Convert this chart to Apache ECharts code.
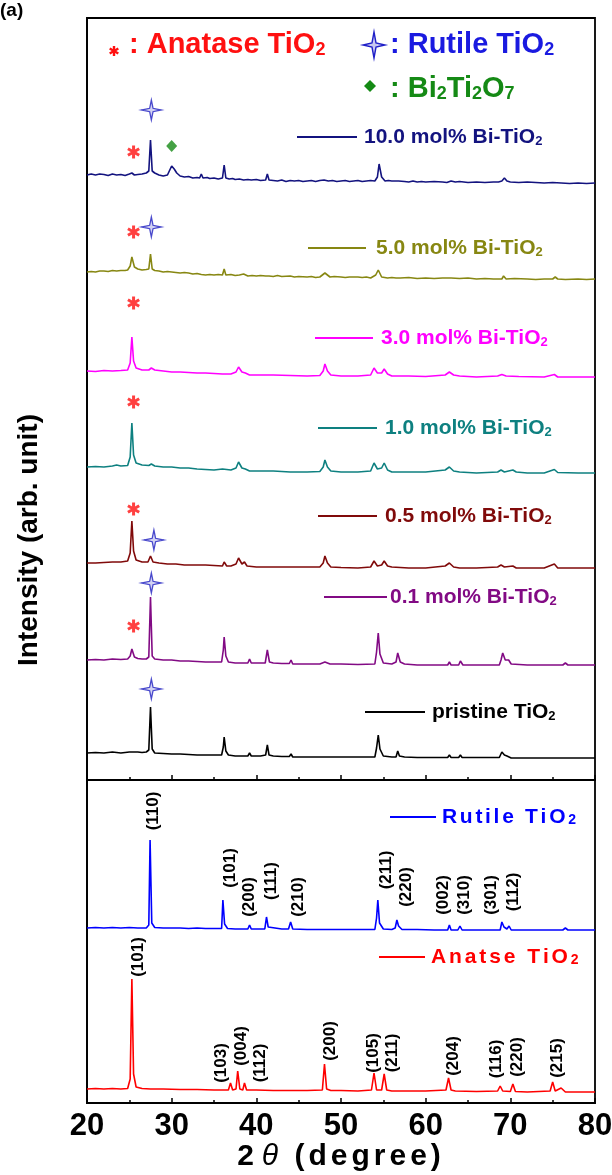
<!DOCTYPE html>
<html>
<head>
<meta charset="utf-8">
<script src="https://cdn.jsdelivr.net/npm/echarts@6/dist/echarts.min.js"></script>
<style>
html, body { margin: 0; padding: 0; background: #fff; }
#chart { width: 612px; height: 1175px; }
</style>
</head>
<body>
<div id="chart"></div>
<script>
// x axis (2θ) range and tick labels
const xTicks = [20, 30, 40, 50, 60, 70, 80]

// Bi-TiO2 patterns, [2θ, intensity above own baseline] (arb. unit)
const pat100 = [[20,0],[20.5,1],[21,0],[21.5,1],[22,0.5],[22.5,-0.5],[23,1],[23.5,0],[24,0.5],[24.5,-0.5],[25,1],[25.3,2],[25.6,0],[26,0.5],[26.5,1],[27,2],[27.3,4],[27.5,35],[27.7,4],[28,2],[28.5,0],[29,-1],[29.5,0],[30,9],[30.3,6],[30.6,2],[31,-1],[31.5,-2],[32,-1.5],[32.5,-3],[33,-2.5],[33.3,-3],[33.5,1],[33.7,-3],[34.2,-2.5],[34.5,-3.5],[35,-3],[35.5,-4],[36,-3],[36.2,10],[36.4,-3],[36.8,-4],[37.2,-3.5],[37.5,-4.5],[38,-4],[38.5,-5],[39,-4.5],[39.2,-3],[39.4,-5],[40,-4.5],[40.5,-5.5],[41.1,-5],[41.3,1],[41.5,-5],[42,-5.5],[42.5,-6],[43,-5],[43.5,-6.5],[44,-5.5],[44.5,-6],[45,-5.5],[45.5,-6.5],[46,-6],[46.5,-5.5],[47,-6.5],[47.5,-5.5],[48,-5],[48.5,-6],[49,-5.5],[49.5,-6.5],[50,-6],[50.5,-5.5],[51,-6.5],[51.5,-6],[52,-5.5],[52.5,-6.5],[53,-6],[53.5,-5.5],[54,-6],[54.3,-2],[54.5,11],[54.8,-2],[55.2,-6],[55.6,-5.5],[56,-6],[56.4,-6],[56.6,-4],[56.8,-6],[57.5,-6.5],[58,-7],[58.5,-6],[59,-7],[59.5,-6.5],[60,-7],[61,-6.5],[62,-7],[62.5,-7.5],[63,-6],[63.5,-7],[64,-6.5],[65,-7.5],[66,-7],[67,-7.5],[68,-7],[68.6,-7],[69,-6],[69.3,-3],[69.6,-6],[70,-7],[71,-7.5],[72,-7],[73,-7.5],[74,-8],[75,-7.5],[76,-8],[77,-8.5],[78,-8],[79,-8.5],[80,-8]]
const pat50 = [[20,0],[20.5,0.5],[21,0],[21.5,1],[22,1],[22.5,0.5],[23,1.5],[23.5,1],[24,1.5],[24.5,1.5],[24.8,2],[25.1,6],[25.3,15],[25.6,5],[26,3],[26.5,2],[27,2.5],[27.3,3],[27.5,18],[27.7,3],[28,1.5],[28.5,1],[29,0],[29.5,0.5],[30,0],[30.5,-0.5],[31,-1],[31.5,-0.5],[32,-1],[32.5,-2],[33,-1.5],[33.5,-2.5],[34,-3],[34.5,-2.5],[35,-3],[35.5,-2.5],[36,-3],[36.2,3],[36.4,-3],[37,-2.5],[37.5,-3.5],[38,-3],[38.5,-2],[39,-4],[39.5,-3.5],[40,-4],[40.5,-3.5],[41.1,-4],[41.3,-2],[41.5,-4],[42,-4.5],[42.5,-3.5],[43,-4.5],[44,-4],[44.5,-5],[45,-4.5],[46,-5],[46.5,-4.5],[47,-5.5],[47.5,-5],[48.1,-1],[48.7,-5],[49.2,-4.5],[50,-5],[50.5,-5.5],[51,-5],[52,-5],[52.5,-5.5],[53,-5],[53.5,-6],[54.1,-3],[54.4,2],[54.8,-5],[55.5,-6],[56,-5.5],[56.5,-6],[57,-6],[58,-5.5],[59,-6.5],[60,-6],[61,-6.5],[62,-6],[63,-6],[64,-6.5],[65,-6],[66,-7],[67,-6.5],[68,-7],[69,-7],[69.2,-4],[69.5,-7],[70.5,-6.5],[72,-7],[73,-7.5],[74,-7],[75,-7],[75.3,-5],[75.6,-7],[76.5,-7.5],[78,-7],[79,-7.5],[80,-7]]
const pat30 = [[20,0],[21,-0.5],[22,0.5],[23,0],[24,0.5],[24.8,1],[25.1,8],[25.3,34],[25.5,10],[25.8,3],[26.5,1],[27.3,1],[27.6,3],[28,1],[29,0],[30,-1],[31,-1],[32,-1.5],[33,-2],[34,-2],[35,-2.5],[36,-3],[37,-3],[37.6,-1],[37.9,4],[38.3,-1],[38.7,-2],[39.2,-4],[40,-4],[42,-4],[44,-4.5],[46,-5],[47.5,-4.5],[47.9,0],[48.1,7],[48.4,0],[48.8,-4],[50,-5],[52,-5],[53.5,-4],[53.9,3],[54.3,-2],[54.8,-2],[55.1,2],[55.5,-3],[56,-5],[58,-5],[60,-5.5],[62.3,-4],[62.8,-1],[63.3,-4],[64,-5],[66,-6],[68.5,-5],[69,-3.5],[69.5,-5],[71,-5.5],[74,-6],[75.2,-3.5],[75.6,-6],[78,-6],[80,-6]]
const pat10 = [[20,0],[21,0.5],[22,0],[23,1],[23.5,2],[24,1],[24.8,1.5],[25.1,10],[25.3,44],[25.5,12],[25.8,4],[26.5,2],[27.3,1.5],[27.6,3],[28,1],[29,0],[30,0],[31,-1],[32,-1],[33,-2],[34,-2.5],[35,-3],[36,-2],[37,-3],[37.6,-1],[37.9,5],[38.3,-1],[38.7,-2],[39.2,-4],[40,-4],[42,-4],[44,-5],[46,-5],[47.5,-4.5],[47.9,0],[48.1,7],[48.4,0],[48.8,-4],[50,-5],[52,-5],[53.5,-4],[53.9,4],[54.3,-2],[54.8,-1],[55.1,4],[55.5,-3],[56,-5],[58,-5],[60,-5],[62.3,-3],[62.8,0],[63.3,-4],[64,-5],[66,-6],[68.5,-5],[68.9,-3],[69.3,-5],[70.3,-3],[70.7,-5],[72,-6],[74,-6],[75.2,-2.5],[75.6,-5.5],[78,-6],[80,-6]]
const pat05 = [[20,0],[21,0],[22,0.5],[23,1],[24,1],[24.8,2],[25.1,10],[25.3,42],[25.5,12],[25.8,3],[26.5,1],[27.2,1],[27.5,7],[27.8,1],[28.5,0],[29.5,-1],[30.5,-1],[31.5,-2],[33,-2],[34,-2],[35,-2.5],[36,-3],[36.2,1],[36.5,-3],[37,-3],[37.6,-1],[37.9,5],[38.3,-1],[38.6,1],[38.9,-3],[40,-4],[42,-4],[44,-4],[46,-4],[47.5,-4],[47.9,0],[48.1,7],[48.4,0],[48.8,-4],[50,-4.5],[52,-5],[53.5,-4],[53.9,2],[54.3,-3],[54.8,-2],[55.1,2],[55.5,-3],[56,-4],[58,-5],[60,-5],[62.3,-3],[62.8,0],[63.3,-4],[64,-5],[66,-5],[68.5,-4],[68.9,-2],[69.3,-4],[70.3,-3],[70.7,-5],[72,-5],[74,-5],[75.2,-1],[75.6,-5],[78,-5],[80,-5]]
const pat01 = [[20,0],[21,0.5],[22,0],[23,1],[24,0.5],[24.8,1],[25.1,4],[25.3,11],[25.6,3],[26,1.5],[26.5,1],[27,1],[27.3,3],[27.5,63],[27.7,4],[28,1],[29,0],[30,0],[31,-1],[32,-1],[33,-1.5],[34,-2],[35,-2],[35.9,-2],[36.1,10],[36.2,23],[36.4,4],[36.7,-2],[37.5,-3],[38.5,-3],[39,-3],[39.2,1],[39.4,-3],[40.5,-3],[41.05,-3],[41.3,10],[41.55,-2],[42,-3],[43,-3.5],[43.9,-3.5],[44.1,0],[44.3,-4],[46,-4],[47.5,-4],[48.1,-2],[48.7,-4],[50,-4],[52,-4.5],[54,-4],[54.2,8],[54.4,27],[54.6,6],[55,-3],[56,-4],[56.5,-2],[56.7,7],[57,-2],[57.5,-4],[59,-5],[61,-5],[62.6,-5],[62.8,-2],[63,-5],[63.9,-5],[64.1,-1],[64.4,-5],[66,-5],[68,-5],[68.7,-5],[68.9,0],[69.1,7],[69.4,0],[69.6,-2],[69.8,0],[70.1,-4],[72,-5],[74,-5],[76.2,-5],[76.5,-3],[76.8,-5],[80,-5]]
const patPristine = [[20,0],[21,0.5],[22,0],[23,1],[24,0],[25,1],[25.5,1],[26,1],[26.5,0.5],[27,1],[27.3,3],[27.5,46],[27.7,4],[28,0],[29,-0.5],[30,-1],[31,-1],[32,-1.5],[33,-2],[34,-2],[35,-2],[35.9,-2],[36.1,6],[36.2,16],[36.4,2],[36.7,-2],[37.5,-3],[38.5,-3],[39,-3],[39.2,0],[39.4,-3],[40.5,-3],[41.1,-2],[41.3,8],[41.5,-2],[42,-3],[43,-3.5],[43.9,-3.5],[44.1,-1],[44.3,-4],[46,-4],[48,-4],[50,-4],[52,-4],[54,-4],[54.2,5],[54.4,18],[54.6,4],[55,-3],[56,-4],[56.5,-4],[56.7,2],[56.9,-3],[57.5,-4],[59,-4.5],[61,-4.5],[62.6,-4.5],[62.8,-2],[63,-4.5],[63.9,-4.5],[64.1,-2],[64.3,-4.5],[66,-4.5],[68,-4.5],[68.7,-4.5],[69,1],[69.3,-2],[69.6,-3],[69.8,-2],[70.1,-5],[72,-5],[75,-5],[78,-5],[80,-5]]

const samplePatterns = [pat100, pat50, pat30, pat10, pat05, pat01, patPristine]
const sampleOffsets = [605, 508, 409, 313, 217, 120, 27]
const sampleNames = ['10.0 mol% Bi-TiO', '5.0 mol% Bi-TiO', '3.0 mol% Bi-TiO', '1.0 mol% Bi-TiO', '0.5 mol% Bi-TiO', '0.1 mol% Bi-TiO', 'pristine TiO']
const sampleColors = ['#13137f', '#878712', '#ff00ff', '#0e8080', '#800a0a', '#820a84', '#000000']

// reference patterns (bottom panel)
const rutileRef = [[20,0],[21,0.5],[22,0],[23,0.5],[24,0],[25,0.5],[26,0],[27,0],[27.3,3],[27.45,88],[27.65,5],[28,0.5],[29,0],[30,0],[31,0],[32,-0.5],[33,0],[34,-0.5],[35,-0.5],[35.9,-0.5],[36.05,28],[36.25,4],[36.6,-0.5],[37.5,-1],[39,-1],[39.2,3],[39.4,-1],[41,-1],[41.2,11],[41.4,1],[41.6,-1],[43,-1],[43.8,-1],[44.05,6],[44.3,-1],[46,-1.5],[48,-1.5],[50,-1.5],[52,-1.5],[54,-1.5],[54.2,10],[54.35,28],[54.55,5],[55,-1],[56,-1.5],[56.4,0],[56.6,8],[56.8,2],[57.2,-1.5],[59,-1.5],[61,-2],[62.6,-2],[62.8,3],[63,-2],[63.8,-2],[64.05,2],[64.3,-2],[66,-2],[68,-2],[68.8,-2],[69,6],[69.25,1],[69.6,-1],[69.85,2],[70.1,-2],[72,-2],[75,-2],[76.2,-2],[76.5,0],[76.8,-2],[80,-2]]
const anataseRef = [[20,0],[21,0.5],[22,0],[23,0.5],[24,0],[24.8,0.5],[25.1,10],[25.3,110],[25.5,15],[25.8,2],[26.5,0.5],[27.5,0],[29,0],[31,-0.5],[33,-0.5],[35,-1],[36.7,-1],[36.95,6],[37.2,-1],[37.6,0],[37.8,18],[38.05,0],[38.4,-1],[38.6,6],[38.85,-1],[40,-1],[42,-1.5],[44,-1.5],[46,-1.5],[47.8,-1],[48.05,25],[48.3,0],[48.8,-1.5],[50,-1.5],[52,-2],[53.6,-1],[53.9,16],[54.2,-1],[54.8,-1],[55.1,15],[55.4,-1],[56,-2],[58,-2],[60,-2],[62.4,-1],[62.7,11],[63,-1],[63.5,-2],[66,-2.5],[68.5,-2],[68.8,3],[69.1,-2],[70,-2.5],[70.3,5],[70.6,-2.5],[72,-3],[74.7,-2],[75,7],[75.3,-2],[76,1],[76.5,-3],[78,-3],[80,-3]]
const refOffsets = [175, 14]

// hkl labels: name, 2θ, height
const rutileHkl = ['(110)', '(101)', '(200)', '(111)', '(210)', '(211)', '(220)', '(002)', '(310)', '(301)', '(112)']
const rutileHklX = [27.8, 36.9, 39.2, 41.8, 44.9, 55.3, 57.7, 62.1, 64.6, 67.8, 70.3]
const rutileHklY = [292, 235, 206, 222, 206, 233, 216, 208, 208, 208, 211]
const anataseHkl = ['(101)', '(103)', '(004)', '(112)', '(200)', '(105)', '(211)', '(204)', '(116)', '(220)', '(215)']
const anataseHklX = [26.1, 35.9, 38.2, 40.5, 48.7, 53.8, 56.1, 63.3, 68.4, 70.8, 75.6]
const anataseHklY = [146, 40, 57, 40, 62, 50, 50, 47, 44, 46, 45]

// phase markers above the stacked patterns
const anataseMarks = [[25.5, 628], [25.5, 548], [25.5, 477], [25.5, 378], [25.5, 271], [25.5, 154]]
const rutileMarks = [[27.6, 670], [27.6, 553], [27.9, 240], [27.6, 197], [27.6, 91]]
const biMarks = [[30.0, 634]]

const FONT = '"Liberation Sans", Arial, sans-serif'
const starPath = 'path://M0,-10L1.7,-1.7L10,0L1.7,1.7L0,10L-1.7,1.7L-10,0L-1.7,-1.7Z'
const asteriskPath = 'path://M0,-6L0,6M-5.2,-3L5.2,3M-5.2,3L5.2,-3'

// letter-spaced rich text helper
function spaced(str, style) {
  return str.split('').map(c => '{' + style + '|' + c + '}').join('')
}

function richSub(size, subSize, gap) {
  return {
    m: { fontSize: size, fontWeight: 'bold', fontFamily: FONT, padding: [0, gap || 0, 0, 0] },
    s: { fontSize: subSize, fontWeight: 'bold', fontFamily: FONT, verticalAlign: 'bottom', lineHeight: subSize, padding: [0, gap || 0, 0, 0] }
  }
}

const series = []

samplePatterns.forEach((pts, i) => {
  series.push({
    type: 'line', xAxisIndex: 0, yAxisIndex: 0,
    data: pts.map(p => [p[0], p[1] + sampleOffsets[i]]),
    showSymbol: false, silent: true,
    lineStyle: { color: sampleColors[i], width: 1.6 }
  })
})

;[rutileRef, anataseRef].forEach((pts, i) => {
  series.push({
    type: 'line', xAxisIndex: 1, yAxisIndex: 1,
    data: pts.map(p => [p[0], p[1] + refOffsets[i]]),
    showSymbol: false, silent: true,
    lineStyle: { color: i === 0 ? '#0000ff' : '#ff0000', width: 1.6 }
  })
})

function hklSeries(names, xs, ys) {
  return {
    type: 'scatter', xAxisIndex: 1, yAxisIndex: 1, silent: true,
    symbolSize: 0.1, itemStyle: { color: '#000', opacity: 0 },
    data: names.map((n, i) => ({ name: n, value: [xs[i], ys[i]] })),
    label: {
      show: true, position: 'inside', rotate: 90, formatter: '{b}', opacity: 1,
      fontSize: 17, fontWeight: 'bold', fontFamily: FONT, color: '#000', textBorderWidth: 0
    }
  }
}
series.push(hklSeries(rutileHkl, rutileHklX, rutileHklY))
series.push(hklSeries(anataseHkl, anataseHklX, anataseHklY))

series.push({
  type: 'scatter', xAxisIndex: 0, yAxisIndex: 0, silent: true, z: 5,
  data: anataseMarks, symbol: asteriskPath, symbolSize: 13, symbolKeepAspect: true,
  itemStyle: { color: 'none', borderColor: '#ff1010', borderWidth: 3 }
})
series.push({
  type: 'scatter', xAxisIndex: 0, yAxisIndex: 0, silent: true, z: 5,
  data: rutileMarks, symbol: starPath, symbolSize: 20, symbolKeepAspect: true,
  itemStyle: { color: '#c8c8f0', borderColor: '#2020c0', borderWidth: 1.3 }
})
series.push({
  type: 'scatter', xAxisIndex: 0, yAxisIndex: 0, silent: true, z: 5,
  data: biMarks, symbol: 'diamond', symbolSize: [11, 12],
  itemStyle: { color: '#158a15' }
})

// legend entries (line + text) drawn as graphics
const legendPos = [
  [297, 357, 137, 364], [308, 366, 248, 376], [315, 373, 338, 381], [318, 377, 428, 385],
  [318, 377, 516, 385], [324, 387, 597, 390], [365, 425, 712, 432]
]
const graphics = []
legendPos.forEach((p, i) => {
  graphics.push({ type: 'line', shape: { x1: p[0], y1: p[2], x2: p[1], y2: p[2] }, style: { stroke: sampleColors[i], lineWidth: 2 } })
  graphics.push({
    type: 'text', x: p[3], y: p[2],
    style: { text: '{m|' + sampleNames[i] + '}{s|2}', fill: sampleColors[i], verticalAlign: 'middle', align: 'left', rich: richSub(21, 13) }
  })
})
// reference legends
graphics.push({ type: 'line', shape: { x1: 390, y1: 817, x2: 436, y2: 817 }, style: { stroke: '#0000ff', lineWidth: 2 } })
graphics.push({
  type: 'text', x: 442, y: 817,
  style: { text: spaced('Rutile TiO', 'm') + '{s|2}', fill: '#0000ff', verticalAlign: 'middle', rich: richSub(21, 14, 2.7) }
})
graphics.push({ type: 'line', shape: { x1: 379, y1: 957, x2: 425, y2: 957 }, style: { stroke: '#ff0000', lineWidth: 2 } })
graphics.push({
  type: 'text', x: 431, y: 957,
  style: { text: spaced('Anatse TiO', 'm') + '{s|2}', fill: '#ff0000', verticalAlign: 'middle', rich: richSub(21, 14, 2.9) }
})
// phase key at the top: asterisk arms, star, diamond
;[[0, -5, 0, 5], [-4.3, -2.5, 4.3, 2.5], [-4.3, 2.5, 4.3, -2.5]].forEach(a => {
  graphics.push({ type: 'line', shape: { x1: 114 + a[0], y1: 51 + a[1], x2: 114 + a[2], y2: 51 + a[3] }, style: { stroke: '#ff1010', lineWidth: 2.4 } })
})
graphics.push({
  type: 'text', x: 129, y: 45,
  style: { text: '{m|: Anatase TiO}{s|2}', fill: '#ff1010', verticalAlign: 'middle', rich: richSub(29, 18) }
})
graphics.push({
  type: 'polygon',
  shape: { points: [[374, 32], [376, 43], [385, 45], [376, 47], [374, 58], [372, 47], [363, 45], [372, 43]] },
  style: { fill: '#c8c8f0', stroke: '#2020c8', lineWidth: 1.4 }
})
graphics.push({
  type: 'text', x: 390, y: 45,
  style: { text: '{m|: Rutile TiO}{s|2}', fill: '#1a1ae0', verticalAlign: 'middle', rich: richSub(29, 18) }
})
graphics.push({ type: 'polygon', shape: { points: [[370, 80], [376, 86], [370, 92], [364, 86]] }, style: { fill: '#158a15' } })
graphics.push({
  type: 'text', x: 390, y: 89,
  style: { text: '{m|: Bi}{s|2}{m|Ti}{s|2}{m|O}{s|7}', fill: '#158a15', verticalAlign: 'middle', rich: richSub(29, 18) }
})
// panel letter, y title, x title
graphics.push({ type: 'text', x: 0, y: 1, style: { text: '(a)', fill: '#000', font: 'bold 19px ' + FONT } })
graphics.push({
  type: 'text', x: 29, y: 540, rotation: Math.PI / 2,
  style: { text: 'Intensity (arb. unit)', fill: '#000', font: 'bold 28px ' + FONT, align: 'center', verticalAlign: 'middle' }
})
graphics.push({
  type: 'text', x: 341, y: 1157,
  style: {
    text: '{m|2}{t|θ}' + spaced(' (degree)', 'm'), fill: '#000', align: 'center', verticalAlign: 'middle',
    rich: {
      m: { fontSize: 30, fontWeight: 'bold', fontFamily: FONT, padding: [0, 4, 0, 0] },
      t: { fontSize: 30, fontStyle: 'italic', fontFamily: FONT, padding: [0, 4, 0, 4] }
    }
  }
})

const axisLineStyle = { show: true, lineStyle: { color: '#000', width: 1.8 } }
function xAxisCfg(grid, labels) {
  return {
    type: 'value', gridIndex: grid, min: xTicks[0], max: xTicks[xTicks.length - 1], interval: 10,
    axisLine: axisLineStyle,
    axisTick: { show: true, inside: true, length: 5, lineStyle: { color: '#000', width: 1.5 } },
    minorTick: { show: true, splitNumber: 2, length: 3, lineStyle: { color: '#000', width: 1.5 } },
    splitLine: { show: false },
    axisLabel: {
      show: labels, margin: 8, fontSize: 31, fontWeight: 'bold', fontFamily: FONT, color: '#000',
      showMinLabel: true, showMaxLabel: true, hideOverlap: false
    }
  }
}
function yAxisCfg(grid, max) {
  return {
    type: 'value', gridIndex: grid, min: 0, max: max,
    axisLine: axisLineStyle, axisTick: { show: false }, axisLabel: { show: false }, splitLine: { show: false }
  }
}

const chart = echarts.init(document.getElementById('chart'), null, { renderer: 'canvas' })
chart.setOption({
  animation: false,
  backgroundColor: '#fff',
  grid: [
    { left: 87, right: 17, top: 18, height: 762, show: true, borderColor: '#000', borderWidth: 1.8, outerBoundsMode: 'none', containLabel: false },
    { left: 87, right: 17, top: 780, height: 323, show: true, borderColor: '#000', borderWidth: 1.8, outerBoundsMode: 'none', containLabel: false }
  ],
  xAxis: [xAxisCfg(0, false), xAxisCfg(1, true)],
  yAxis: [yAxisCfg(0, 762), yAxisCfg(1, 323)],
  series: series,
  graphic: graphics
})
</script>
</body>
</html>
